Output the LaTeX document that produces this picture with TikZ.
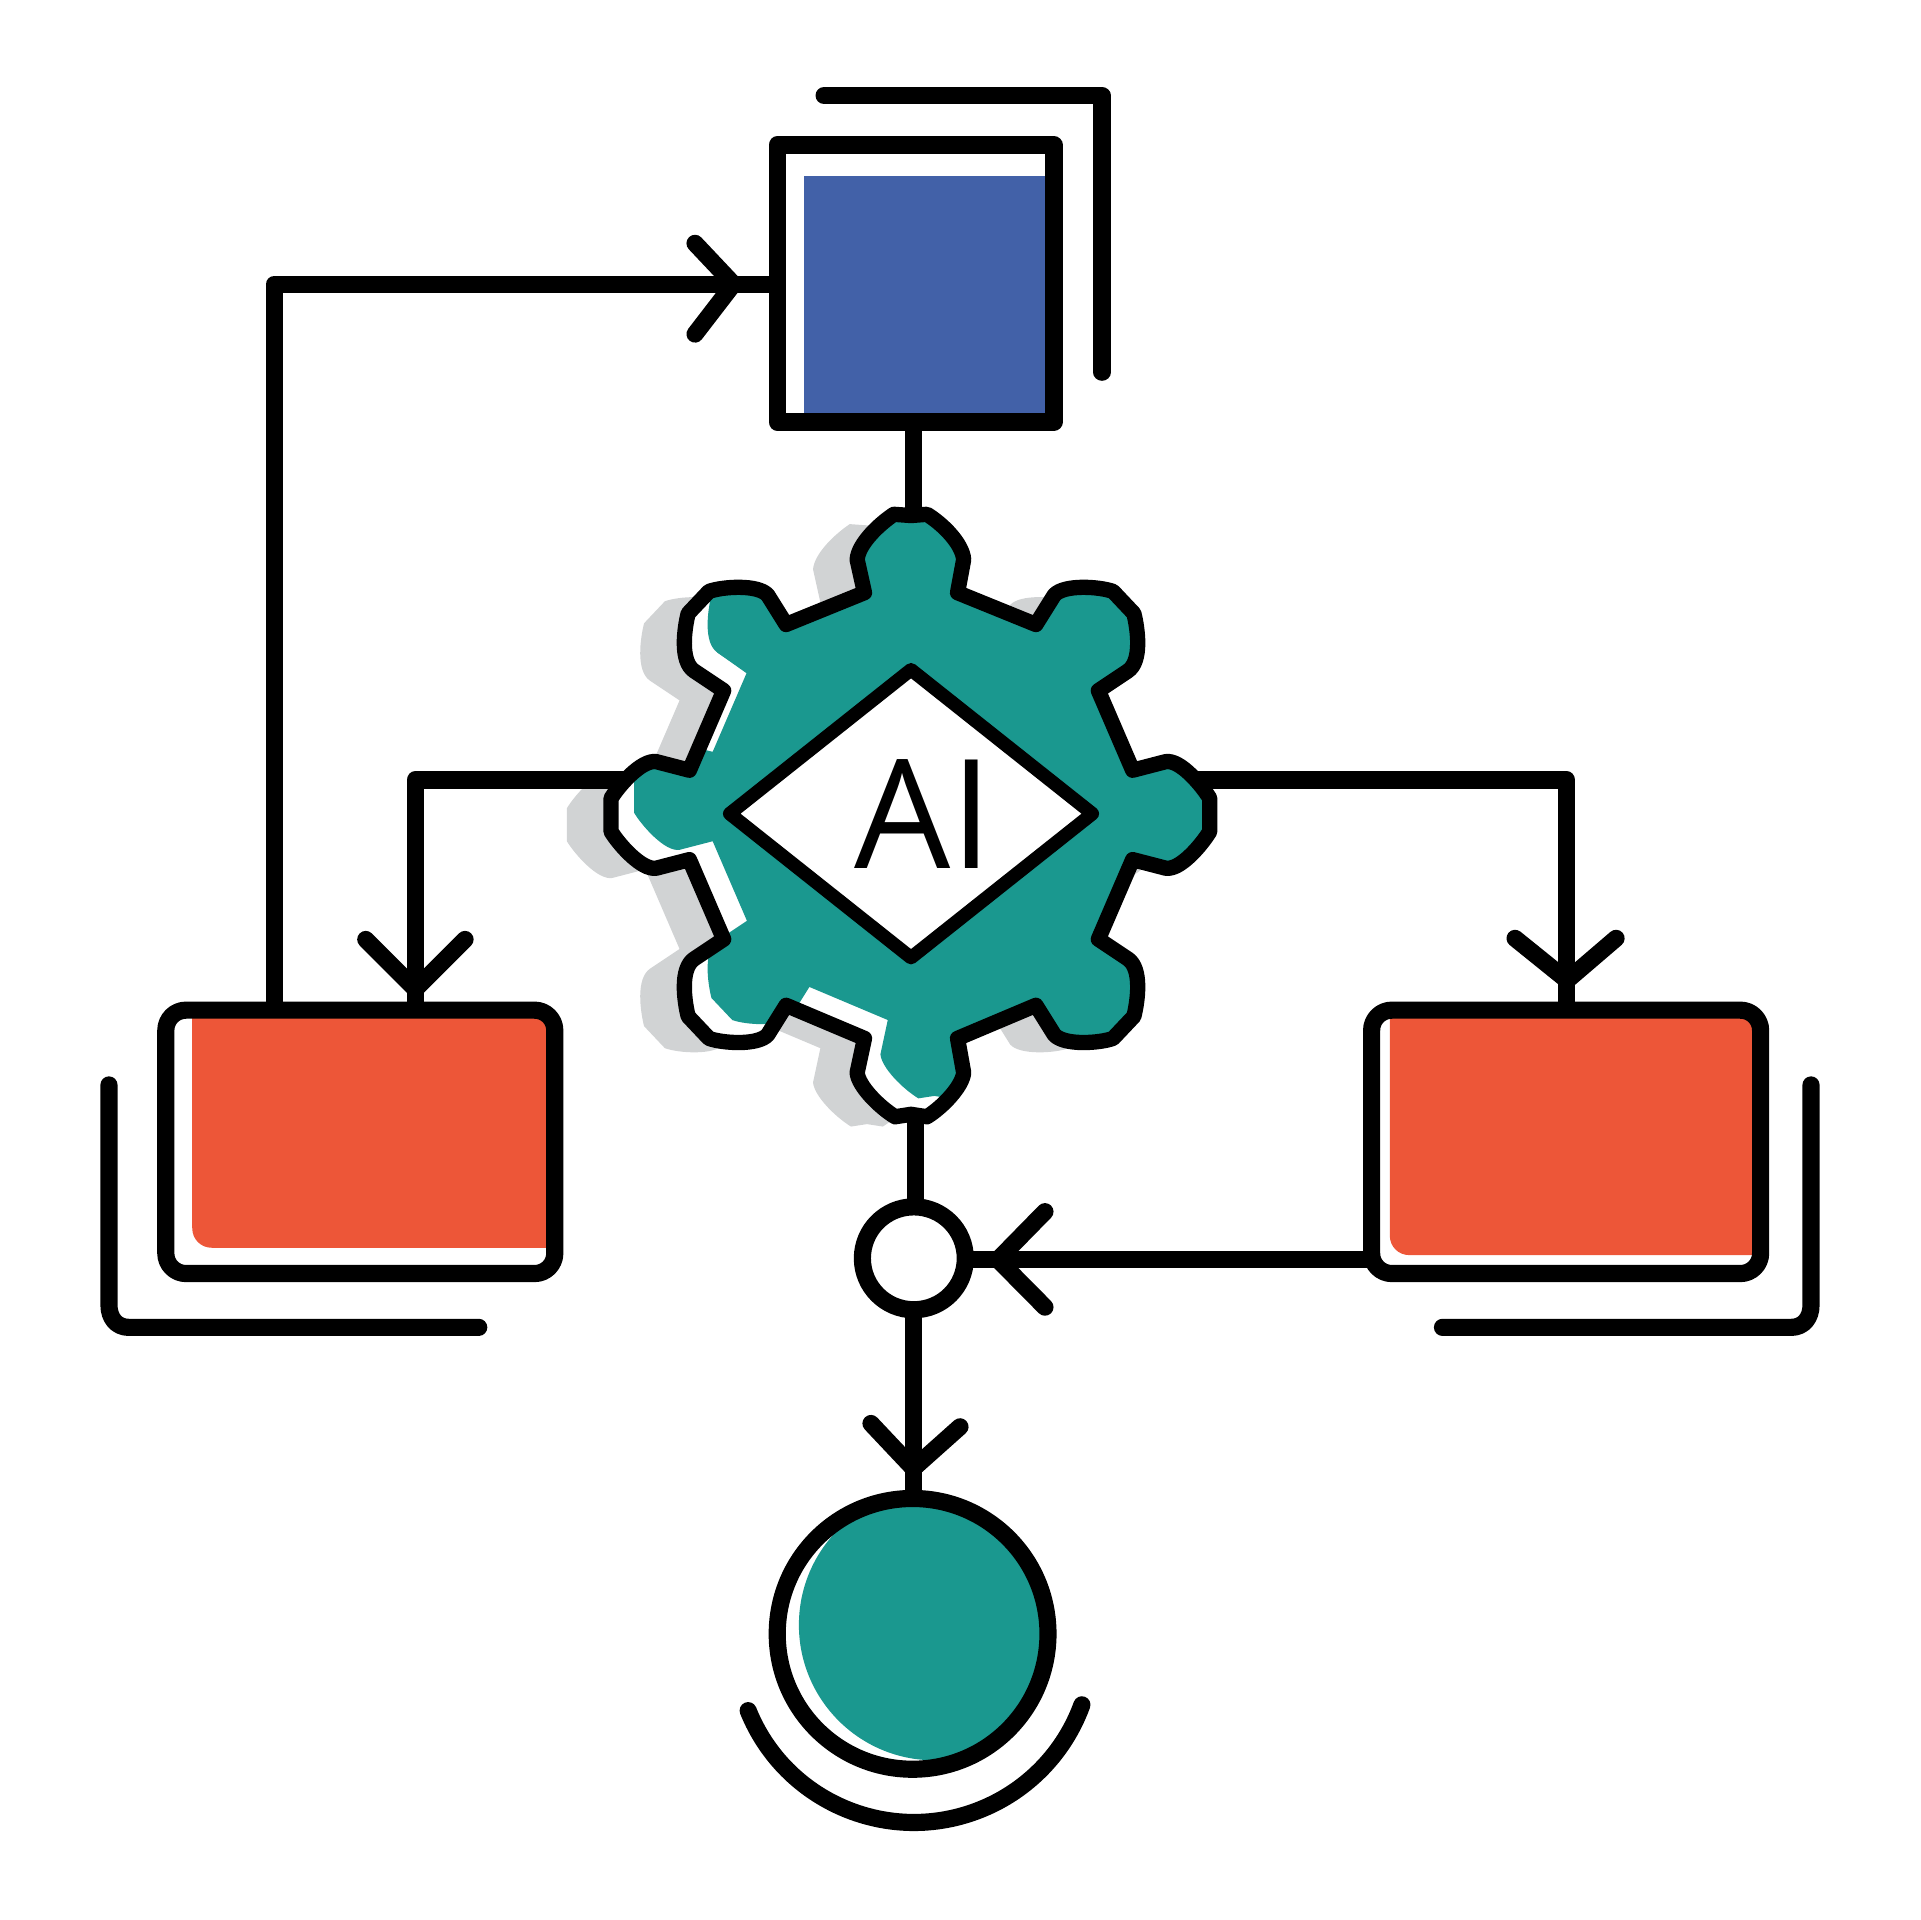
\documentclass[tikz,border=0pt]{standalone}
\usepackage{fontspec}
\newfontfamily\labelfont{Open Sans}
\usepackage{tikz}
\usetikzlibrary{shapes,positioning,calc}
\definecolor{tealfill}{HTML}{1A988F}
\definecolor{bluefill}{HTML}{4261A8}
\definecolor{redfill}{HTML}{ED5638}
\definecolor{shadowgray}{HTML}{D1D3D4}

\newcommand{\gearoutline}{
    (706,484) -- (700,457) .. controls (701,444) and (718,428) .. (730,420)
    -- (744,421) -- (757,420) .. controls (770,428) and (786,444) .. (787,457)
    -- (782,484) -- (846,510) -- (861,486) .. controls (869,477) and (898,479) .. (909,483)
    -- (926,501) .. controls (929,513) and (933,540) .. (921,548)
    -- (897,564) -- (925,629) -- (952,622) .. controls (964,620) and (982,642) .. (988,652)
    -- (988,679) .. controls (982,689) and (964,711) .. (952,709)
    -- (925,702) -- (897,767) -- (921,783) .. controls (933,791) and (929,818) .. (926,830)
    -- (909,848) .. controls (898,852) and (869,854) .. (861,845)
    -- (846,821) -- (782,848) -- (787,876) .. controls (786,887) and (770,904) .. (757,912)
    -- (744,910) -- (731,912) .. controls (718,904) and (701,887) .. (700,876)
    -- (706,848) -- (642,821) -- (627,845) .. controls (619,854) and (590,852) .. (579,848)
    -- (562,830) .. controls (559,818) and (555,791) .. (567,783)
    -- (591,767) -- (563,702) -- (536,709) .. controls (524,711) and (505,689) .. (499,679)
    -- (499,652) .. controls (505,642) and (524,620) .. (536,622)
    -- (563,629) -- (591,564) -- (567,548) .. controls (555,540) and (559,513) .. (562,501)
    -- (579,483) .. controls (590,479) and (619,477) .. (627,486)
    -- (642,510) -- cycle
}

\begin{document}
\begin{tikzpicture}[
    x=0.01cm,
    y=-0.01cm,
    line join=round,
    every node/.style={
        outer sep=0pt,
        inner sep=0pt
    },
    inkline/.style={draw=black,line width=0.14cm},
    freeline/.style={inkline,line cap=round},
    gearline/.style={draw=black,line width=0.125cm},
    squarebox/.style={inkline,minimum size=2.26cm},
    sidebox/.style={inkline,rounded corners=0.165cm,minimum width=3.175cm,minimum height=2.15cm},
    hubnode/.style={inkline,circle,fill=white,minimum size=0.84cm},
    endnode/.style={inkline,circle,minimum size=2.21cm},
    corenode/.style={diamond,draw=black,line width=0.11cm,fill=white,minimum width=2.96cm,minimum height=2.35cm},
    ailabel/.style={font=\labelfont\fontsize{35.3}{36}\selectfont,text=black}
]
\useasboundingbox (0,0) rectangle (1568,1568);

% colour patches under the outlines
\fill[bluefill] (656.5,144) rectangle (857,342);
\fill[redfill] (157,826) -- (450,826) -- (450,1019) -- (173,1019)
    .. controls (164,1019) and (157,1012) .. (157,1003) -- cycle;
\fill[redfill] (1135,826) -- (1434,826) -- (1434,1025) -- (1151,1025)
    .. controls (1142,1025) and (1135,1018) .. (1135,1009) -- cycle;
\begin{scope}
    \clip (745.3,1334.3) circle[radius=1.11cm];
    \fill[tealfill] (763,1327) circle[radius=1.105cm];
\end{scope}

% gear: shadow, white body, offset teal
\fill[shadowgray,xshift=-0.36cm,yshift=-0.08cm] \gearoutline;
\fill[white] \gearoutline;
\begin{scope}
    \clip \gearoutline;
    \fill[tealfill,xshift=0.19cm,yshift=0.15cm] \gearoutline;
    \fill[tealfill] (790,400) rectangle (1000,930);
    \fill[tealfill] (580,400) -- (1000,400) -- (1000,550) -- (610,550) -- (586,533) -- (580,520) -- cycle;
    \fill[tealfill] (518,616) rectangle (600,664);
\end{scope}
\draw[gearline] \gearoutline;

\node[squarebox] (bluebox) at (747.7,231.5) {};
\node[sidebox] (leftbox) at (294.25,932.5) {};
\node[sidebox] (rightbox) at (1279,932.5) {};
\node[hubnode] (hubcircle) at (746.3,1027.6) {};
\node[endnode] (endcircle) at (745.3,1334.3) {};
\node[corenode] (aidiamond) at (744,664.5) {};
\node[ailabel] (aitext) at (754.5,664.5) {AI};

\coordinate (geartop) at (746,420);
\coordinate (gearbottom) at (747.5,908);
\coordinate (gearleft) at (512,637);
\coordinate (gearright) at (978,637);
\coordinate (bendtop) at (224,232);
\coordinate (bendleft) at (339,637);
\coordinate (bendright) at (1279.5,637);
\coordinate (hubline) at (1000,1028.7);

\draw[inkline] (bluebox.south -| geartop) -- (geartop);
\draw[inkline] (gearbottom) -- (gearbottom |- hubcircle.north);
\draw[inkline] (hubcircle.south) -- (endcircle.north -| hubcircle.south);
\draw[inkline] (leftbox.north -| bendtop) -- (bendtop) -- (bluebox.west |- bendtop);
\draw[inkline] (gearleft) -- (bendleft) -- (bendleft |- leftbox.north);
\draw[inkline] (gearright) -- (bendright) -- (bendright |- rightbox.north);
\draw[inkline] (rightbox.west |- hubline) -- (hubcircle.east |- hubline);

% open arrow heads
\coordinate (tipblue) at (599,232);
\coordinate (tipleft) at (339.2,807.7);
\coordinate (tipright) at (1279.8,800.6);
\coordinate (tiphub) at (815,1028.7);
\coordinate (tipend) at (745.9,1199.2);
\draw[freeline] (567.6,198.7) -- (tipblue) -- (567.6,272.8);
\draw[freeline] (298.7,767.2) -- (tipleft) -- (379.8,767.2);
\draw[freeline] (1237.3,766.3) -- (tipright) -- (1319.8,766.3);
\draw[freeline] (853.4,989.5) -- (tiphub) -- (853.4,1067.5);
\draw[freeline] (711.3,1162.5) -- (tipend) -- (784,1165.2);

% loose brackets around the boxes
\draw[freeline] (673,78) -- (900,78) -- (900,304);
\draw[freeline] (89,886) -- (89,1066) .. controls (89,1076) and (95,1084) .. (105,1084) -- (391,1084);
\draw[freeline] (1479,886) -- (1479,1066) .. controls (1479,1076) and (1473,1084) .. (1463,1084) -- (1178,1084);
\draw[freeline] (611,1397) arc[start angle=158,end angle=20,radius=146];

\end{tikzpicture}
\end{document}
